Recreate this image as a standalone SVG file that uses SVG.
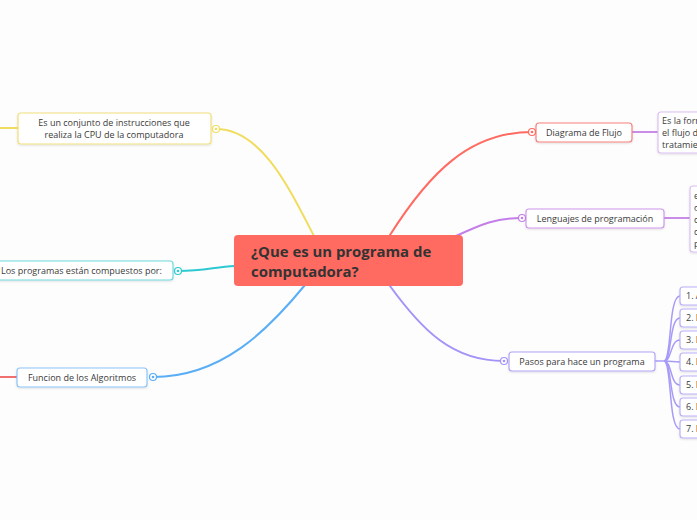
<svg xmlns="http://www.w3.org/2000/svg" width="697" height="520" viewBox="0 0 697 520">
<defs>
<filter id="sh" x="-10%" y="-20%" width="120%" height="150%">
<feDropShadow dx="0" dy="1" stdDeviation="0.8" flood-color="#000" flood-opacity="0.12"/>
</filter>
</defs>
<style>
.bg{fill:#fdfdfe}
.c{fill:none;stroke-width:2;stroke-linecap:round}
.box{fill:#ffffff;stroke-width:1.2;filter:url(#sh)}
.t{font-family:"Open Sans","Noto Sans","DejaVu Sans",sans-serif;font-size:9px;fill:#3a3a3a}
.ct{font-family:"Open Sans","Noto Sans","DejaVu Sans",sans-serif;font-size:14.9px;font-weight:bold;fill:#333333}
.dot{fill:#ffffff;stroke-width:1.2}
</style>
<rect class="bg" x="0" y="0" width="697" height="520"/>
<g id="connectors">
<path class="c" stroke="#f0dd60" d="M216,129 C262,129 290,190 314,236"/>
<path class="c" stroke="#f0dd60" d="M0,128 L18,128"/>
<path class="c" stroke="#2cc9d1" d="M178,271 C205,271 214,267 235,266"/>
<path class="c" stroke="#5aaef6" d="M153,377 C222,377 268,330 305,285"/>
<path class="c" stroke="#f07070" stroke-width="1.2" d="M0,377 L17,377"/>
<path class="c" stroke="#ff6b61" d="M390,235 C430,172 470,132 532,132"/>
<path class="c" stroke="#c98de8" stroke-width="1.5" d="M632,132 L658,132"/>
<path class="c" stroke="#c47ee8" d="M456,236 C482,224 496,218 522,218"/>
<path class="c" stroke="#c98de8" stroke-width="1.5" d="M664,218 L690,218"/>
<path class="c" stroke="#a294f9" d="M390,286 C422,330 452,361 504,361"/>
<g stroke="#a79bf8" stroke-width="1.5" fill="none">
<path d="M655,361 L664,361"/>
<path d="M664,361 C672,361 668,296 680,296"/>
<path d="M664,361 C672,361 669,318 680,318"/>
<path d="M664,361 C672,361 670,340 680,340"/>
<path d="M664,361 L680,362"/>
<path d="M664,361 C672,361 670,385 680,385"/>
<path d="M664,361 C672,361 669,407 680,407"/>
<path d="M664,361 C672,361 668,429 680,429"/>
</g>
</g>
<g id="center">
<rect x="234" y="235" width="229" height="51" rx="4" fill="#ff6b61"/>
<text class="ct" x="251" y="257">¿Que es un programa de</text>
<text class="ct" x="251" y="277">computadora?</text>
</g>
<g id="n-conjunto">
<rect class="box" x="18" y="113" width="193" height="31" rx="3" stroke="#f2e07a"/>
<text class="t" x="114" y="126" text-anchor="middle">Es un conjunto de instrucciones que</text>
<text class="t" x="114" y="138" text-anchor="middle">realiza la CPU de la computadora</text>
<circle class="dot" cx="216" cy="129" r="3.5" stroke="#f0dd60"/>
<circle cx="216" cy="129" r="1.3" fill="#f0dd60"/>
</g>
<g id="n-compuestos">
<rect class="box" x="-8" y="261" width="181" height="19" rx="3" stroke="#6fd9de"/>
<text class="t" x="1" y="274">Los programas están compuestos por:</text>
<circle class="dot" cx="178" cy="271" r="3.5" stroke="#2cc9d1"/>
<circle cx="178" cy="271" r="1.3" fill="#2cc9d1"/>
</g>
<g id="n-funcion">
<rect class="box" x="17" y="368" width="130" height="19" rx="3" stroke="#8ec4f7"/>
<text class="t" x="82" y="381" text-anchor="middle">Funcion de los Algoritmos</text>
<circle class="dot" cx="153" cy="377" r="3.5" stroke="#5aaef6"/>
<circle cx="153" cy="377" r="1.3" fill="#5aaef6"/>
</g>
<g id="n-diagrama">
<rect class="box" x="536" y="123" width="96" height="19" rx="3" stroke="#f7827b"/>
<text class="t" x="584" y="136" text-anchor="middle">Diagrama de Flujo</text>
<circle class="dot" cx="532" cy="132" r="3.5" stroke="#ff6b61"/>
<circle cx="532" cy="132" r="1.3" fill="#ff6b61"/>
</g>
<g id="n-diagrama-desc">
<rect class="box" x="658" y="112" width="60" height="41" rx="3" stroke="#dcc0f2"/>
<text class="t" x="662" y="124">Es la form</text>
<text class="t" x="662" y="136">el flujo d</text>
<text class="t" x="662" y="148">tratamien</text>
</g>
<g id="n-lenguajes">
<rect class="box" x="526" y="209" width="138" height="19" rx="3" stroke="#cf98ec"/>
<text class="t" x="595" y="222" text-anchor="middle">Lenguajes de programación</text>
<circle class="dot" cx="522" cy="218" r="3.5" stroke="#c47ee8"/>
<circle cx="522" cy="218" r="1.3" fill="#c47ee8"/>
</g>
<g id="n-lenguajes-desc">
<rect class="box" x="690" y="186" width="30" height="66" rx="3" stroke="#dcc0f2"/>
<text class="t" x="694" y="199">e</text>
<text class="t" x="694" y="211">o</text>
<text class="t" x="694" y="223">c</text>
<text class="t" x="694" y="235">c</text>
<text class="t" x="694" y="247">p</text>
</g>
<g id="n-pasos">
<rect class="box" x="509" y="352" width="146" height="19" rx="3" stroke="#b0a6f8"/>
<text class="t" x="582" y="365" text-anchor="middle">Pasos para hace un programa</text>
<circle class="dot" cx="504" cy="361" r="3.5" stroke="#a294f9"/>
<circle cx="504" cy="361" r="1.3" fill="#a294f9"/>
</g>
<g id="steps">
<rect class="box" x="680" y="287" width="40" height="18" rx="3" stroke="#b9b0f8"/>
<text class="t" x="686" y="299">1. A</text>
<rect class="box" x="680" y="309" width="40" height="18" rx="3" stroke="#b9b0f8"/>
<text class="t" x="686" y="321">2. E</text>
<rect class="box" x="680" y="331" width="40" height="18" rx="3" stroke="#b9b0f8"/>
<text class="t" x="686" y="343">3. D</text>
<rect class="box" x="680" y="353" width="40" height="18" rx="3" stroke="#b9b0f8"/>
<text class="t" x="686" y="365">4. E</text>
<rect class="box" x="680" y="376" width="40" height="18" rx="3" stroke="#b9b0f8"/>
<text class="t" x="686" y="388">5. P</text>
<rect class="box" x="680" y="398" width="40" height="18" rx="3" stroke="#b9b0f8"/>
<text class="t" x="686" y="410">6. D</text>
<rect class="box" x="680" y="420" width="40" height="18" rx="3" stroke="#b9b0f8"/>
<text class="t" x="686" y="432">7. M</text>
</g>
</svg>
